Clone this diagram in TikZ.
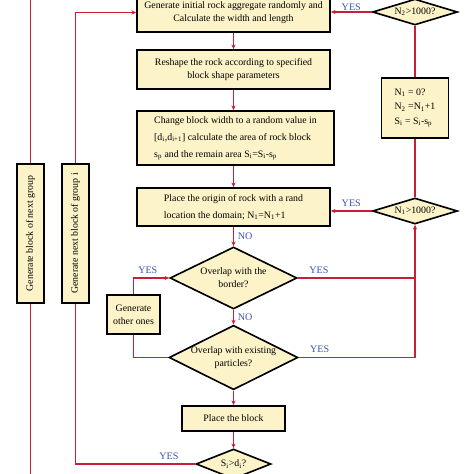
\documentclass[tikz,border=0pt]{standalone}
\usepackage{fontspec}
\setmainfont{Liberation Serif}
\usetikzlibrary{
  arrows.meta,
  positioning,
  shapes.geometric
}
\definecolor{flow}{RGB}{200,30,55}
\definecolor{answer}{RGB}{60,80,178}
\definecolor{boxfill}{RGB}{252,243,200}

\begin{document}
\begin{tikzpicture}[
  x=0.03cm, y=-0.03cm,
  every node/.style={font=\fontsize{8.4}{11}\selectfont},
  proc/.style={draw=black, line width=1.4pt, fill=boxfill, align=center, inner sep=2pt},
  dec/.style={proc, diamond, aspect=2, inner sep=0pt},
  flowline/.style={flow, line width=0.9pt},
  ans/.style={text=answer, font=\fontsize{8.6}{10}\selectfont},
  >={Stealth[length=4pt,width=3.5pt]}
]
\useasboundingbox (0,0) rectangle (474,474);
\clip (0,0) rectangle (474,474);

% main column
\node[proc, minimum width=5.79cm, minimum height=1.17cm] (init) at (233.5,12.5)
  {Generate initial rock aggregate randomly and\\Calculate the width and length};
\node[proc, minimum width=5.79cm, minimum height=1.17cm] (reshape) at (233.5,69.5)
  {Reshape the rock according to specified\\block shape parameters};
\node[proc, align=left, minimum width=5.91cm, minimum height=1.62cm,
      font=\fontsize{8.4}{14.5}\selectfont] (width) at (235.5,138)
  {Change block width to a random value in\\
   {[}d\textsubscript{i},d\textsubscript{i+1}] calculate the area of rock block\\
   s\textsubscript{p} and the remain area S\textsubscript{i}=S\textsubscript{i}-s\textsubscript{p}};
\node[proc, align=left, minimum width=5.79cm, minimum height=1.14cm,
      font=\fontsize{8.4}{14.5}\selectfont] (origin) at (233.5,207)
  {Place the origin of rock with a rand\\location the domain; N\textsubscript{1}=N\textsubscript{1}+1};
\node[dec, minimum width=3.81cm, minimum height=1.86cm] (border) at (233.5,278)
  {Overlap with the\\border?};
\node[dec, minimum width=3.81cm, minimum height=1.83cm] (exist) at (233.5,357.5)
  {Overlap with existing\\particles?};
\node[proc, minimum width=3.09cm, minimum height=0.75cm] (place) at (233.5,418.5)
  {Place the block};
\node[dec, aspect=2.5, minimum width=2.25cm, minimum height=0.9cm] (remain) at (233.5,464)
  {S\textsubscript{i}>d\textsubscript{i}?};

% left side
\node[proc, rotate=90, minimum width=4.17cm, minimum height=0.81cm] (nextgroup) at (30.5,233.5)
  {Generate block of next group};
\node[proc, rotate=90, minimum width=4.17cm, minimum height=0.81cm] (nextblock) at (75.5,233.5)
  {Generate next block of group i};
\node[proc, minimum width=1.59cm, minimum height=1.17cm] (other) at (133.5,314.5)
  {Generate\\other ones};
\coordinate (topA) at (30.5,-10);
\coordinate (botA) at (30.5,490);

% right side
\node[dec, aspect=3.3, minimum width=2.55cm, minimum height=0.78cm] (cntB) at (415,12)
  {N\textsubscript{2}>1000?};
\node[proc, align=left, minimum width=2.01cm, minimum height=1.8cm,
      font=\fontsize{8.4}{12.5}\selectfont] (reset) at (415,108)
  {N\textsubscript{1} = 0?\\N\textsubscript{2} =N\textsubscript{1}+1\\S\textsubscript{i} = S\textsubscript{i}-s\textsubscript{p}};
\node[dec, aspect=3.3, minimum width=2.55cm, minimum height=0.78cm] (cntA) at (415,211)
  {N\textsubscript{1}>1000?};

% flow
\draw[flowline, ->] (init) -- (reshape);
\draw[flowline, ->] (reshape.south) -- (reshape.south |- width.north);
\draw[flowline, ->] (origin.north |- width.south) -- (origin.north);
\draw[flowline, ->] (origin) -- node[ans, right] {NO} (border);
\draw[flowline, ->] (border) -- node[ans, right] {NO} (exist);
\draw[flowline, ->] (exist) -- (place);
\draw[flowline, ->] (place) -- (remain);

\draw[flowline] (border.east) -- node[ans, above, pos=0.18] {YES} (border.east -| cntA.south);
\draw[flowline, ->] (exist.east) -| node[ans, above, pos=0.09] {YES} (cntA.south);
\draw[flowline, ->] (cntA.west) -- node[ans, above] {YES} (cntA.west -| origin.east);
\draw[flowline] (cntA.north) -- (reset.south);
\draw[flowline] (reset.north) -- (cntB.south);
\draw[flowline, ->] (cntB.west) -- node[ans, above, inner sep=0.5pt] {YES} (cntB.west -| init.east);

\draw[flowline, ->] (other.north) |- node[ans, above, pos=0.7] {YES} (border.west);
\draw[flowline] (other.south) |- (exist.west);

\draw[flowline] (remain.west) -| node[ans, above, pos=0.11] {YES} (nextblock.west);
\draw[flowline, ->] (nextblock.east) |- (init.west);
\draw[flowline] (topA) -- (nextgroup.east);
\draw[flowline] (nextgroup.west) -- (botA);

\end{tikzpicture}
\end{document}
